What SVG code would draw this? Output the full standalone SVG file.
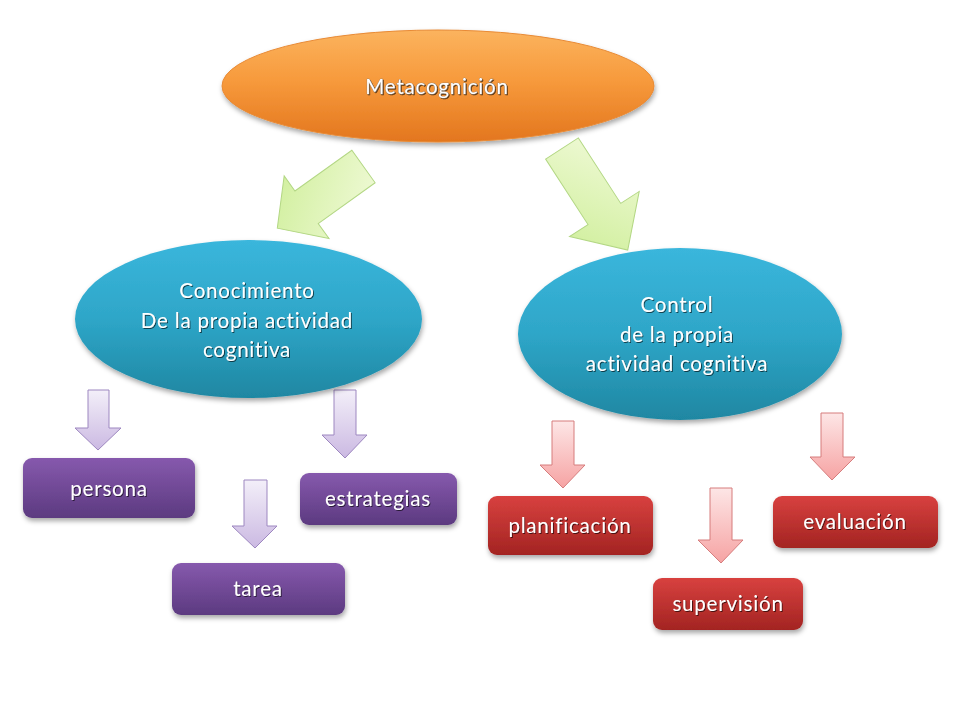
<svg xmlns="http://www.w3.org/2000/svg" width="960" height="720" viewBox="0 0 960 720">
<defs>
<linearGradient id="gOrange" x1="0" y1="0" x2="0" y2="1">
<stop offset="0" stop-color="#fbb35e"/><stop offset="0.45" stop-color="#f79a3c"/><stop offset="1" stop-color="#e3761e"/>
</linearGradient>
<linearGradient id="gBlue" x1="0" y1="0" x2="0" y2="1">
<stop offset="0" stop-color="#3ab6dc"/><stop offset="0.5" stop-color="#2ea6c8"/><stop offset="1" stop-color="#1f87a2"/>
</linearGradient>
<linearGradient id="gPurple" x1="0" y1="0" x2="0" y2="1">
<stop offset="0" stop-color="#8659ad"/><stop offset="1" stop-color="#5c3a80"/>
</linearGradient>
<linearGradient id="gRed" x1="0" y1="0" x2="0" y2="1">
<stop offset="0" stop-color="#d8413f"/><stop offset="1" stop-color="#a32422"/>
</linearGradient>
<linearGradient id="gGreen" x1="0" y1="0" x2="1" y2="1">
<stop offset="0" stop-color="#f1fad9"/><stop offset="1" stop-color="#cdee97"/>
</linearGradient>
<linearGradient id="gLav" x1="0" y1="0" x2="0" y2="1">
<stop offset="0" stop-color="#f3eff9"/><stop offset="1" stop-color="#cbb9e2"/>
</linearGradient>
<linearGradient id="gPink" x1="0" y1="0" x2="0" y2="1">
<stop offset="0" stop-color="#fde6e6"/><stop offset="1" stop-color="#f6a3a3"/>
</linearGradient>
<filter id="sh" x="-20%" y="-20%" width="140%" height="150%">
<feDropShadow dx="1" dy="3" stdDeviation="2.5" flood-color="#000" flood-opacity="0.35"/>
</filter>
<filter id="tsh" x="-10%" y="-30%" width="120%" height="160%">
<feDropShadow dx="1" dy="1" stdDeviation="0.6" flood-color="#000" flood-opacity="0.6"/>
</filter>
</defs>
<style>
text{font-family:Lato,"Open Sans","Liberation Sans",sans-serif;font-size:20.5px;fill:#fff;text-anchor:middle;filter:url(#tsh);letter-spacing:0.8px}
.title{stroke:#777;stroke-width:0.6px;paint-order:stroke}
.box{filter:url(#sh)}
.ga{fill:url(#gGreen);stroke:#b3d784;stroke-width:1}
.la{fill:url(#gLav);stroke:#9d87c0;stroke-width:1}
.pa{fill:url(#gPink);stroke:#d67d7d;stroke-width:1}
</style>
<rect width="960" height="720" fill="#fff"/>

<g id="connectors">
<polygon class="ga" transform="translate(363.5,166.5) rotate(144.4)" points="0,-20 70,-20 70,-38.5 106,0 70,38.5 70,20 0,20"/>
<polygon class="ga" transform="translate(562,148.5) rotate(57.1)" points="0,-19.5 78,-19.5 78,-41.5 121,0 78,41.5 78,19.5 0,19.5"/>
<polygon class="la" points="88,390 109,390 109,428 121,428 98,450 75,428 88,428"/>
<polygon class="la" points="244,480 267,480 267,526 277,526 255,548 232,526 244,526"/>
<polygon class="la" points="334,390 356,390 356,435 367,435 345,458 322,435 334,435"/>
<polygon class="pa" points="552,421 574,421 574,465 585,465 563,488 540,465 552,465"/>
<polygon class="pa" points="710,488 732,488 732,540 743,540 721,563 698,540 710,540"/>
<polygon class="pa" points="821,413 843,413 843,457 855,457 832,480 810,457 821,457"/>
</g>

<g id="metacognicion">
<ellipse class="box" cx="438" cy="86" rx="216" ry="56" fill="url(#gOrange)" stroke="#e88a35" stroke-width="1"/>
<text class="title" x="437" y="94">Metacognición</text>
</g>

<g id="conocimiento">
<ellipse class="box" cx="248.5" cy="319" rx="173.5" ry="79" fill="url(#gBlue)"/>
<text x="247" y="298">Conocimiento</text>
<text x="247" y="328">De la propia actividad</text>
<text x="247" y="357">cognitiva</text>
</g>

<g id="control">
<ellipse class="box" cx="680" cy="334" rx="162" ry="86" fill="url(#gBlue)"/>
<text x="677" y="312">Control</text>
<text x="677" y="342">de la propia</text>
<text x="677" y="371">actividad cognitiva</text>
</g>

<g id="persona">
<rect class="box" x="23" y="458" width="172" height="60" rx="9" fill="url(#gPurple)"/>
<text x="109" y="496">persona</text>
</g>
<g id="estrategias">
<rect class="box" x="300" y="473" width="157" height="52" rx="9" fill="url(#gPurple)"/>
<text x="378" y="506">estrategias</text>
</g>
<g id="tarea">
<rect class="box" x="172" y="563" width="173" height="52" rx="9" fill="url(#gPurple)"/>
<text x="258" y="596">tarea</text>
</g>

<g id="planificacion">
<rect class="box" x="488" y="496" width="165" height="59" rx="9" fill="url(#gRed)"/>
<text x="570" y="533">planificación</text>
</g>
<g id="supervision">
<rect class="box" x="653" y="578" width="150" height="52" rx="9" fill="url(#gRed)"/>
<text x="728" y="611">supervisión</text>
</g>
<g id="evaluacion">
<rect class="box" x="773" y="496" width="165" height="52" rx="9" fill="url(#gRed)"/>
<text x="855" y="529">evaluación</text>
</g>
</svg>
